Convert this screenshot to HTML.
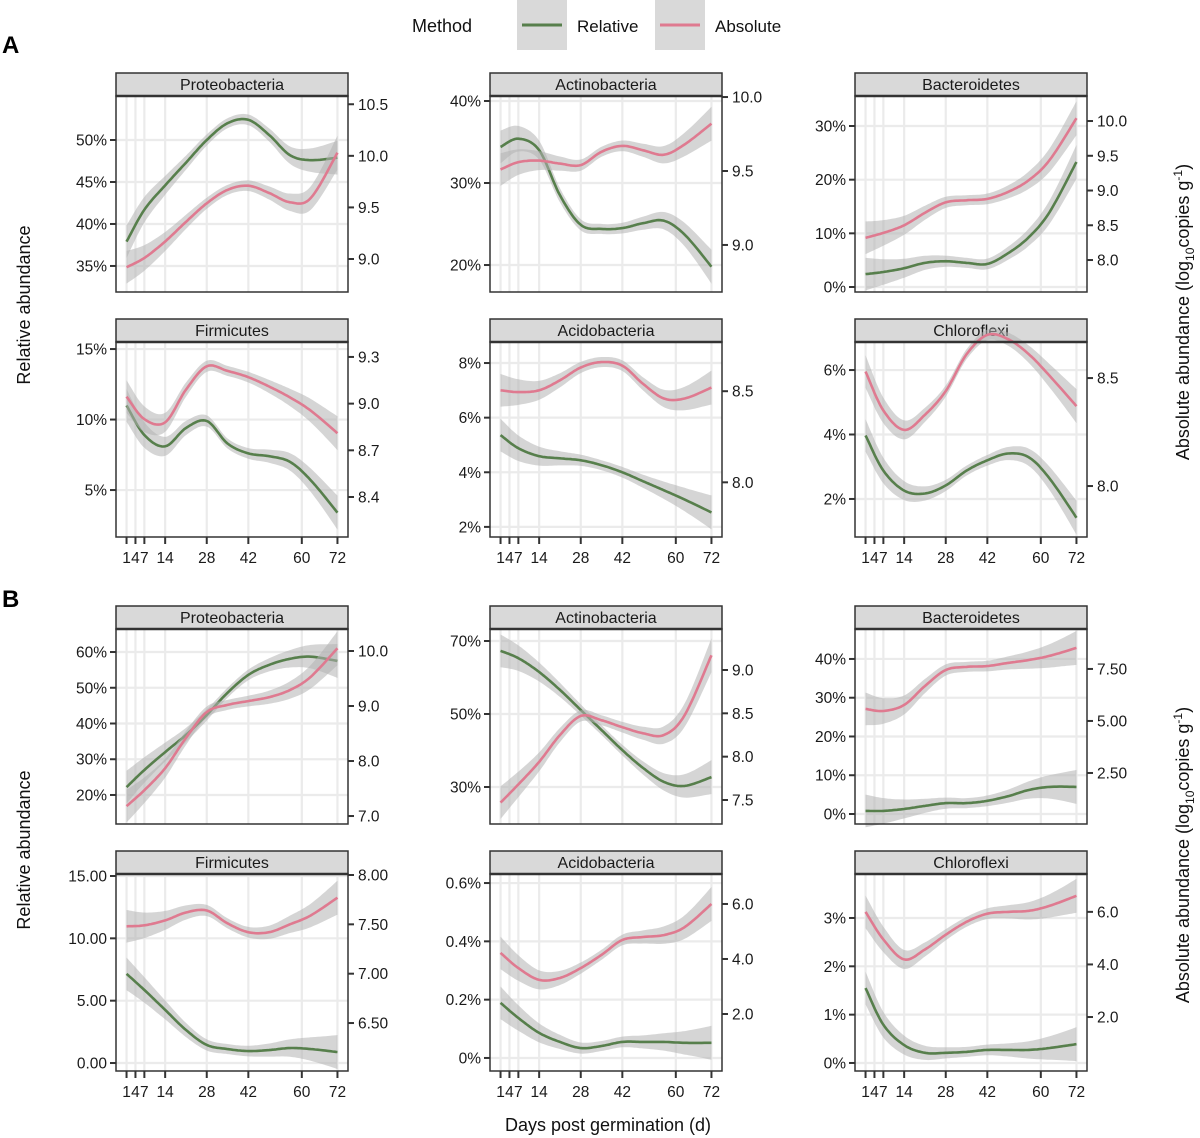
<!DOCTYPE html>
<html><head><meta charset="utf-8">
<style>
html,body{margin:0;padding:0;background:#fff;}
svg{display:block;font-family:"Liberation Sans",sans-serif;}
</style></head>
<body>
<svg id="chart" width="1200" height="1138" viewBox="0 0 1200 1138" xmlns="http://www.w3.org/2000/svg">
  <g>
    <text x="412" y="32" font-size="18" fill="#111">Method</text>
    <rect x="517" y="0" width="50" height="50" fill="#d9d9d9"/>
    <line x1="522" y1="25" x2="562" y2="25" stroke="#577f4c" stroke-width="3"/>
    <text x="577" y="32" font-size="17" fill="#111">Relative</text>
    <rect x="655" y="0" width="50" height="50" fill="#d9d9d9"/>
    <line x1="660" y1="25" x2="700" y2="25" stroke="#df7a90" stroke-width="3"/>
    <text x="715" y="32" font-size="17" fill="#111">Absolute</text>
  </g>
  <text x="2" y="53" font-size="24" font-weight="bold" fill="#000">A</text>
  <text x="2" y="607" font-size="24" font-weight="bold" fill="#000">B</text>
  <text transform="translate(30,305) rotate(-90)" text-anchor="middle" font-size="18" fill="#111">Relative abundance</text>
  <text transform="translate(30,850) rotate(-90)" text-anchor="middle" font-size="18" fill="#111">Relative abundance</text>
  <text transform="translate(1189,312) rotate(-90)" text-anchor="middle" font-size="18" fill="#111">Absolute abundance (log<tspan font-size="12" dy="5">10</tspan><tspan dy="-5">copies g</tspan><tspan font-size="12" dy="-7">-1</tspan><tspan dy="7">)</tspan></text>
  <text transform="translate(1189,855) rotate(-90)" text-anchor="middle" font-size="18" fill="#111">Absolute abundance (log<tspan font-size="12" dy="5">10</tspan><tspan dy="-5">copies g</tspan><tspan font-size="12" dy="-7">-1</tspan><tspan dy="7">)</tspan></text>
  <text x="608" y="1131" text-anchor="middle" font-size="18" fill="#111">Days post germination (d)</text>
</svg>
<script>
const days = [1,7,14,21,28,35,42,49,56,63,72];
const xTicks = [1,4,7,14,28,42,60,72];
const xDomain = [-2.55, 75.55];
const panelNames = ["Proteobacteria","Actinobacteria","Bacteroidetes","Firmicutes","Acidobacteria","Chloroflexi","Proteobacteria","Actinobacteria","Bacteroidetes","Firmicutes","Acidobacteria","Chloroflexi"];

// relative (left axis) series
const relA1 = [37.9,41.7,44.6,47.3,50.0,52.0,52.4,50.6,48.2,47.6,47.9];
const relA2 = [34.4,35.4,34.0,28.5,24.9,24.4,24.5,25.1,25.4,23.7,19.8];
const relA3 = [2.4,2.8,3.5,4.5,4.8,4.5,4.3,6.3,9.3,14.0,23.3];
const relA4 = [11.0,8.9,8.1,9.4,9.9,8.3,7.6,7.4,7.0,5.7,3.4];
const relA5 = [5.36,4.88,4.59,4.51,4.44,4.26,4.0,3.67,3.34,3.0,2.53];
const relA6 = [3.97,2.88,2.26,2.17,2.42,2.88,3.2,3.41,3.29,2.63,1.42];
const relB1 = [22.2,27.0,32.0,36.8,42.4,48.6,53.6,56.4,58.1,58.7,57.5];
const relB2 = [67.3,65.3,61.5,56.6,51.1,45.6,40.1,35.2,31.4,30.3,32.7];
const relB3 = [0.8,0.8,1.3,2.1,2.8,2.8,3.4,4.6,6.2,7.0,7.0];
const relB4 = [7.15,5.86,4.26,2.65,1.45,1.12,0.96,1.04,1.2,1.12,0.88];
const relB5 = [0.189,0.137,0.086,0.055,0.034,0.041,0.055,0.055,0.055,0.052,0.052];
const relB6 = [1.55,0.79,0.37,0.21,0.21,0.23,0.27,0.27,0.27,0.31,0.39];
// absolute (right axis) series
const absA1 = [8.92,9.01,9.17,9.36,9.54,9.67,9.71,9.64,9.55,9.59,10.03];
const absA2 = [9.51,9.56,9.57,9.55,9.54,9.63,9.67,9.64,9.61,9.68,9.82];
const absA3 = [8.32,8.39,8.50,8.68,8.83,8.86,8.88,8.98,9.15,9.44,10.04];
const absA4 = [9.045,8.90,8.88,9.09,9.24,9.21,9.17,9.11,9.04,8.955,8.81];
const absA5 = [8.505,8.495,8.505,8.56,8.63,8.66,8.64,8.54,8.46,8.46,8.52];
const absA6 = [8.53,8.35,8.26,8.33,8.44,8.61,8.70,8.68,8.61,8.51,8.37];
const absB1 = [7.18,7.47,7.87,8.42,8.89,9.02,9.09,9.16,9.29,9.53,10.05];
const absB2 = [7.47,7.68,7.94,8.25,8.47,8.42,8.34,8.27,8.25,8.48,9.17];
const absB3 = [5.58,5.48,5.77,6.68,7.45,7.6,7.64,7.79,7.93,8.13,8.51];
const absB4 = [7.48,7.49,7.54,7.62,7.64,7.51,7.42,7.42,7.5,7.59,7.77];
const absB5 = [4.22,3.67,3.24,3.31,3.67,4.15,4.69,4.8,4.87,5.16,6.0];
const absB6 = [6.0,4.95,4.19,4.57,5.13,5.62,5.93,6.0,6.04,6.23,6.61];

// axis domains [bottom, top]
const leftDomA1=[31.90,55.24], rightDomA1=[8.68,10.58];
const leftDomA2=[16.71,40.61], rightDomA2=[8.682,10.007];
const leftDomA3=[-0.93,35.59], rightDomA3=[7.54,10.36];
const leftDomA4=[1.67,15.50], rightDomA4=[8.143,9.396];
const leftDomA5=[1.63,8.77], rightDomA5=[7.70,8.77];
const leftDomA6=[0.82,6.87], rightDomA6=[7.764,8.667];
const leftDomB1=[11.88,66.44], rightDomB1=[6.855,10.4];
const leftDomB2=[19.86,73.29], rightDomB2=[7.223,9.473];
const leftDomB3=[-2.58,47.73], rightDomB3=[0.048,9.42];
const leftDomB4=[-0.64,15.16], rightDomB4=[6.014,8.01];
const leftDomB5=[-0.0447,0.631], rightDomB5=[-0.073,7.09];
const leftDomB6=[-0.166,3.91], rightDomB6=[-0.053,7.44];

// tick values and labels
const lTickA1=[35,40,45,50], lLabA1=["35%","40%","45%","50%"];
const lTickA2=[20,30,40], lLabA2=["20%","30%","40%"];
const lTickA3=[0,10,20,30], lLabA3=["0%","10%","20%","30%"];
const lTickA4=[5,10,15], lLabA4=["5%","10%","15%"];
const lTickA5=[2,4,6,8], lLabA5=["2%","4%","6%","8%"];
const lTickA6=[2,4,6], lLabA6=["2%","4%","6%"];
const lTickB1=[20,30,40,50,60], lLabB1=["20%","30%","40%","50%","60%"];
const lTickB2=[30,50,70], lLabB2=["30%","50%","70%"];
const lTickB3=[0,10,20,30,40], lLabB3=["0%","10%","20%","30%","40%"];
const lTickB4=[0,5,10,15], lLabB4=["0.00","5.00","10.00","15.00"];
const lTickB5=[0,0.2,0.4,0.6], lLabB5=["0%","0.2%","0.4%","0.6%"];
const lTickB6=[0,1,2,3], lLabB6=["0%","1%","2%","3%"];
const rTickA1=[9.0,9.5,10.0,10.5], rLabA1=["9.0","9.5","10.0","10.5"];
const rTickA2=[9.0,9.5,10.0], rLabA2=["9.0","9.5","10.0"];
const rTickA3=[8.0,8.5,9.0,9.5,10.0], rLabA3=["8.0","8.5","9.0","9.5","10.0"];
const rTickA4=[8.4,8.7,9.0,9.3], rLabA4=["8.4","8.7","9.0","9.3"];
const rTickA5=[8.0,8.5], rLabA5=["8.0","8.5"];
const rTickA6=[8.0,8.5], rLabA6=["8.0","8.5"];
const rTickB1=[7,8,9,10], rLabB1=["7.0","8.0","9.0","10.0"];
const rTickB2=[7.5,8.0,8.5,9.0], rLabB2=["7.5","8.0","8.5","9.0"];
const rTickB3=[2.5,5.0,7.5], rLabB3=["2.50","5.00","7.50"];
const rTickB4=[6.5,7.0,7.5,8.0], rLabB4=["6.50","7.00","7.50","8.00"];
const rTickB5=[2,4,6], rLabB5=["2.0","4.0","6.0"];
const rTickB6=[2,4,6], rLabB6=["2.0","4.0","6.0"];

const rels=[relA1,relA2,relA3,relA4,relA5,relA6,relB1,relB2,relB3,relB4,relB5,relB6];
const abss=[absA1,absA2,absA3,absA4,absA5,absA6,absB1,absB2,absB3,absB4,absB5,absB6];
const lDoms=[leftDomA1,leftDomA2,leftDomA3,leftDomA4,leftDomA5,leftDomA6,leftDomB1,leftDomB2,leftDomB3,leftDomB4,leftDomB5,leftDomB6];
const rDoms=[rightDomA1,rightDomA2,rightDomA3,rightDomA4,rightDomA5,rightDomA6,rightDomB1,rightDomB2,rightDomB3,rightDomB4,rightDomB5,rightDomB6];
const lTicks=[lTickA1,lTickA2,lTickA3,lTickA4,lTickA5,lTickA6,lTickB1,lTickB2,lTickB3,lTickB4,lTickB5,lTickB6];
const lLabs=[lLabA1,lLabA2,lLabA3,lLabA4,lLabA5,lLabA6,lLabB1,lLabB2,lLabB3,lLabB4,lLabB5,lLabB6];
const rTicks=[rTickA1,rTickA2,rTickA3,rTickA4,rTickA5,rTickA6,rTickB1,rTickB2,rTickB3,rTickB4,rTickB5,rTickB6];
const rLabs=[rLabA1,rLabA2,rLabA3,rLabA4,rLabA5,rLabA6,rLabB1,rLabB2,rLabB3,rLabB4,rLabB5,rLabB6];

const colLeft=[116,490,855], plotW=232;
const rowTop=[96,342,629,874], rowBot=[292,537,824,1071];
const NS="http://www.w3.org/2000/svg";
const svg=document.getElementById('chart');
function mk(tag,attrs,parent){const e=document.createElementNS(NS,tag);for(const k in attrs)e.setAttribute(k,attrs[k]);(parent||svg).appendChild(e);return e;}

function spline(pts,n){ // catmull-rom sampling
  const out=[];
  for(let i=0;i<pts.length-1;i++){
    const p0=pts[Math.max(0,i-1)],p1=pts[i],p2=pts[i+1],p3=pts[Math.min(pts.length-1,i+2)];
    for(let k=0;k<n;k++){const t=k/n,t2=t*t,t3=t2*t;
      const f=(a,b,c,d)=>0.5*((2*b)+(-a+c)*t+(2*a-5*b+4*c-d)*t2+(-a+3*b-3*c+d)*t3);
      out.push([f(p0[0],p1[0],p2[0],p3[0]),f(p0[1],p1[1],p2[1],p3[1]),f(p0[2],p1[2],p2[2],p3[2])]);}
  }
  const l=pts[pts.length-1];out.push([l[0],l[1],l[2]]);return out;
}

for(let p=0;p<12;p++){
  const row=Math.floor(p/3),col=p%3;
  const L=colLeft[col],R=L+plotW,T=rowTop[row],B=rowBot[row];
  const xs=d=>L+(d-xDomain[0])/(xDomain[1]-xDomain[0])*plotW;
  const ysL=v=>B-(v-lDoms[p][0])/(lDoms[p][1]-lDoms[p][0])*(B-T);
  const ysR=v=>B-(v-rDoms[p][0])/(rDoms[p][1]-rDoms[p][0])*(B-T);
  const g=mk('g',{});
  
  
  const st=mk('rect',{x:L,y:T-23,width:plotW,height:23,fill:'#d9d9d9',stroke:'#333','stroke-width':1.5},g);
  
  
  const stt=mk('text',{x:L+plotW/2,y:T-6,'text-anchor':'middle','font-size':16,fill:'#1a1a1a'},g);
  stt.textContent=panelNames[p];
  
  
  lTicks[p].forEach(v=>{const y=ysL(v);
    const gl=mk('line',{x1:L,x2:R,y1:y,y2:y,stroke:'#ebebeb','stroke-width':2.2},g);
    
    });
  xTicks.forEach(d=>{const x=xs(d);
    const gl=mk('line',{x1:x,x2:x,y1:T,y2:B,stroke:'#ebebeb','stroke-width':2.2},g);
    
    });
  const series=[[rels[p],ysL,'#577f4c','relative'],[abss[p],ysR,'#df7a90','absolute']];
  series.forEach(([vals,ys,color,nm])=>{
    const pts=days.map((d,i)=>[xs(d),ys(vals[i]),d]);
    const s=spline(pts,12);
    const w=d=>5+12*Math.pow((d-36)/36,2);
    const up=s.map(q=>q[0].toFixed(1)+','+(q[1]-w(q[2])).toFixed(1));
    const dn=s.slice().reverse().map(q=>q[0].toFixed(1)+','+(q[1]+w(q[2])).toFixed(1));
    const band=mk('polygon',{points:up.concat(dn).join(' '),fill:'#b3b3b3','fill-opacity':0.55},g);
    
    
    const line=mk('polyline',{points:s.map(q=>q[0].toFixed(1)+','+q[1].toFixed(1)).join(' '),fill:'none',stroke:color,'stroke-width':2.6,'stroke-linejoin':'round'},g);
    
    
  });
  const fr=mk('rect',{x:L,y:T,width:plotW,height:B-T,fill:'none',stroke:'#333','stroke-width':1.5},g);
  
  
  const sb=mk('line',{x1:L,x2:R,y1:T,y2:T,stroke:'#333','stroke-width':2.5},g);
  
  
  lTicks[p].forEach((v,i)=>{const y=ysL(v);
    const tk=mk('line',{x1:L-6,x2:L,y1:y,y2:y,stroke:'#333','stroke-width':2},g);
    
    
    const t=mk('text',{x:L-9,y:y+5.5,'text-anchor':'end','font-size':15.5,fill:'#1a1a1a'},g);
    t.textContent=lLabs[p][i];
    
    });
  rTicks[p].forEach((v,i)=>{const y=ysR(v);
    const tk=mk('line',{x1:R,x2:R+6,y1:y,y2:y,stroke:'#333','stroke-width':2},g);
    
    
    const t=mk('text',{x:R+10,y:y+5.5,'text-anchor':'start','font-size':15.5,fill:'#1a1a1a'},g);
    t.textContent=rLabs[p][i];
    
    });
  if(row===1||row===3){
    xTicks.forEach(d=>{const x=xs(d);
      const tk=mk('line',{x1:x,x2:x,y1:B,y2:B+7,stroke:'#333','stroke-width':2},g);
      
      
      const t=mk('text',{x:x,y:B+26,'text-anchor':'middle','font-size':15.5,fill:'#1a1a1a'},g);
      t.textContent=String(d);
      
      });
  }
}
</script>
</body></html>
